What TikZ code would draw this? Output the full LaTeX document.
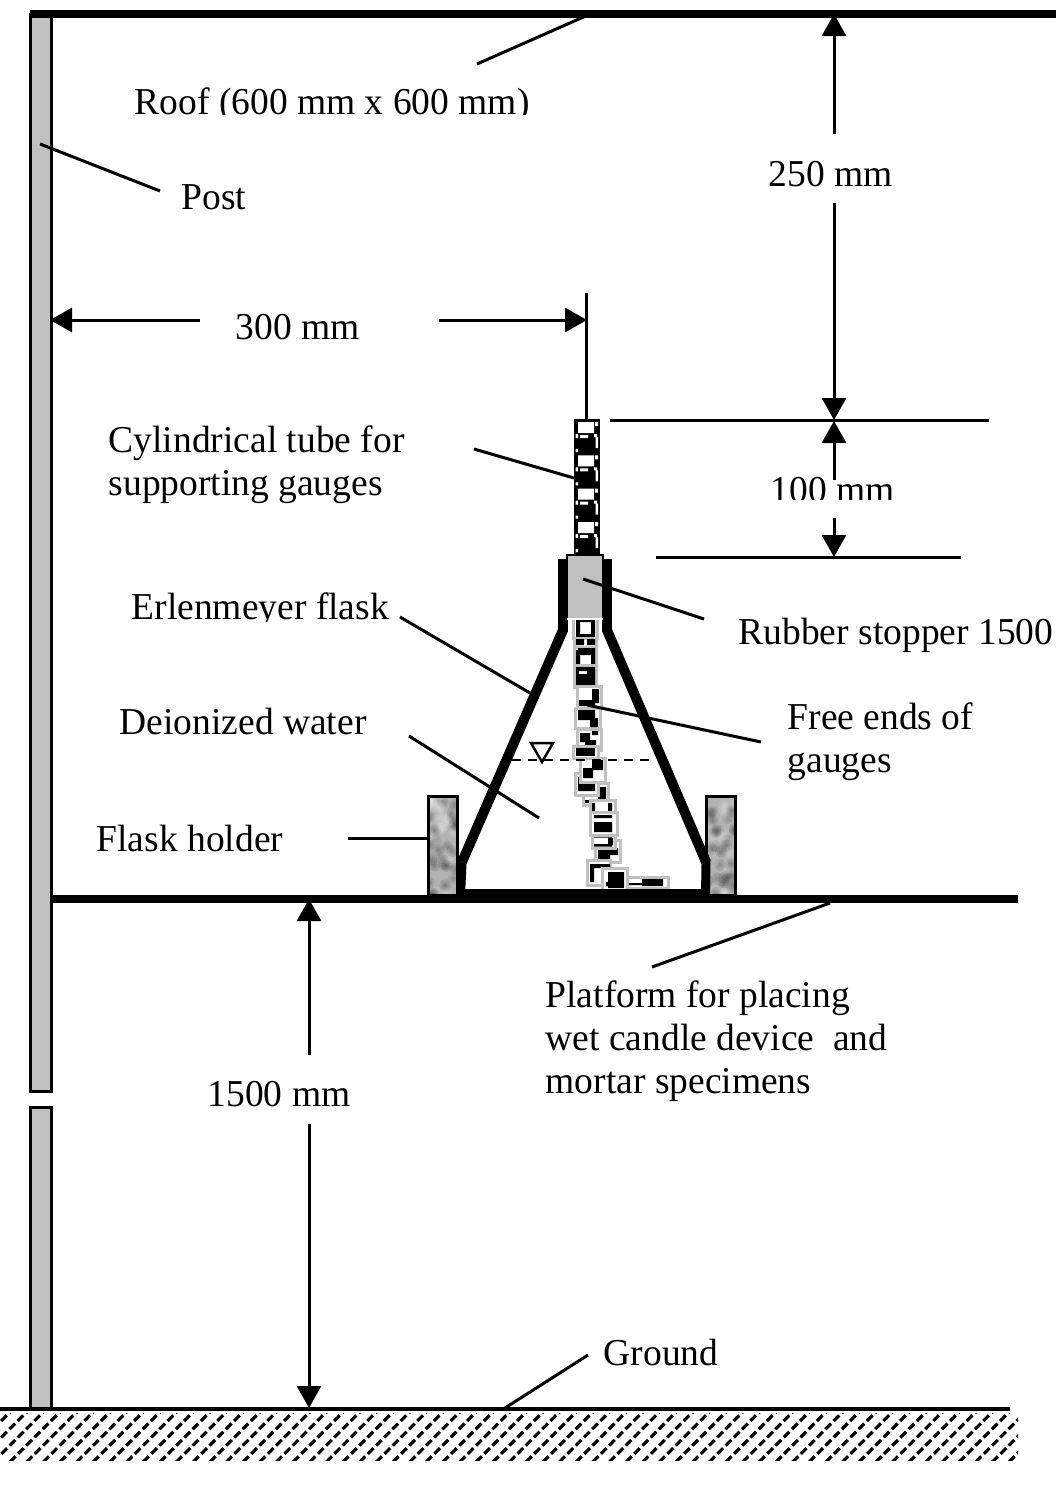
\documentclass[tikz,border=0pt]{standalone}
\usepackage{fontspec}
\setmainfont[FakeStretch=0.987]{Liberation Serif}
\usetikzlibrary{arrows.meta}

\definecolor{postgray}{RGB}{192,192,192}
\tikzset{
  txt/.style={anchor=base west, inner sep=0, align=left, xshift=0.5pt, yshift=1pt,
    font=\fontsize{38}{43}\selectfont},
  leader/.style={line width=3},
  dim/.style={line width=3, -{Triangle[length=22,width=24]}},
  gaugebox/.style={draw=postgray, line width=3, fill=white},
}
% one free gauge piece: box corners, then its black parts
\newcommand{\gaugepiece}[5]{
  \draw[gaugebox] (#1, #2) rectangle (#3, #4);
  \fill[black] #5;
}

\begin{document}
\begin{tikzpicture}[x=1pt, y=-1pt]
  \useasboundingbox (0, 0) rectangle (1061, 1497);

  % post and roof
  \draw[line width=3, fill=postgray] (30, 14) rectangle (51, 1091);
  \draw[line width=3, fill=postgray] (30, 1107) rectangle (51, 1408);
  \draw[line width=8] (30, 14) -- (1056, 14);

  % ground
  \begin{scope}
    \clip (0, 1413) rectangle (1018, 1460);
    \foreach \i in {0,...,65}
      \draw[line width=3.2, dash pattern=on 8 off 3.6] (\i*16.65 - 40, 1462) -- (\i*16.65 + 12, 1410);
  \end{scope}
  \draw[line width=4] (0, 1409) -- (1010, 1409);

  % flask holders
  \foreach \holdx in {427, 705} {
    \begin{scope}
      \clip (\holdx, 795) rectangle (\holdx + 31, 895);
      \fill[black!30] (\holdx, 795) rectangle (\holdx + 31, 895);
      \pgfmathsetseed{\holdx}
      \foreach \i in {1,...,60} {
        \pgfmathsetmacro{\spotx}{\holdx + 31*rnd}
        \pgfmathsetmacro{\spoty}{795 + 100*rnd}
        \pgfmathsetmacro{\spotc}{rnd > 0.5 ? 0 : 100}
        \foreach \spotr in {2, 4, 6}
          \fill[white!\spotc!black, opacity=0.09] (\spotx, \spoty) circle (\spotr);
      }
    \end{scope}
    \draw[line width=3] (\holdx + 1, 895) rectangle (\holdx + 30, 796);
  }

  % cylindrical tube
  \fill[black] (574, 419) rectangle (600, 555);
  \foreach \tuby in {420, 453.3, 486.7, 520} {
    \fill[white] (578, \tuby + 2) rectangle (594, \tuby + 13)
                 (580, \tuby + 15) rectangle (588, \tuby + 18)
                 (575.5, \tuby + 14) rectangle (578, \tuby + 18)
                 (575.5, \tuby + 29) rectangle (578, \tuby + 32)
                 (595, \tuby + 2) rectangle (598, \tuby + 6)
                 (594, \tuby + 14) rectangle (597, \tuby + 17)
                 (595.5, \tuby + 17) rectangle (598, \tuby + 28);
  }

  % free ends of gauges
  \gaugepiece{573}{618}{597}{638}{(576, 620) rectangle (595, 622) (576, 634) rectangle (595, 637) (576, 620) rectangle (580, 637) (591, 620) rectangle (595, 637)}
  \gaugepiece{574}{638}{596}{647}{(576, 639) rectangle (584, 645) (587, 639) rectangle (595, 645)}
  \gaugepiece{574}{647}{596}{665}{(578, 648) rectangle (595, 655) (576, 650) rectangle (580, 664) (591, 650) rectangle (595, 664)}
  \gaugepiece{574}{665}{596}{687}{(576, 667) rectangle (579, 685) (587, 667) rectangle (595, 685) (576, 667) rectangle (595, 671) (576, 674) rectangle (595, 685)}
  \gaugepiece{577}{686}{601}{708}{(592, 689) rectangle (599, 703) (579, 700) rectangle (595, 706)}
  \gaugepiece{575}{708}{600}{728}{(578, 710) rectangle (595, 720) (590, 718) rectangle (598, 727)}
  \gaugepiece{577}{729}{601}{750}{(580, 733) rectangle (590, 742) (592, 731) rectangle (598, 735) (585, 740) rectangle (596, 746)}
  \gaugepiece{573}{746}{598}{758}{(576, 748) rectangle (595, 756)}
  \gaugepiece{583}{783}{608}{805}{(598, 787) rectangle (606, 800) (585, 800) rectangle (589, 803)}
  \gaugepiece{575}{773}{598}{795}{(578, 777) rectangle (582, 791) (582, 781) rectangle (595, 791)}
  \gaugepiece{580}{758}{605}{782}{(592, 760) rectangle (603, 770) (583, 768) rectangle (593, 778)}
  \gaugepiece{590}{800}{615}{813}{(592, 803) rectangle (595, 812) (608, 803) rectangle (612, 812)}
  \gaugepiece{595}{840}{620}{862}{(598, 850) rectangle (610, 860) (607, 848) rectangle (618, 855)}
  \gaugepiece{592}{833}{615}{848}{(594, 835) rectangle (612, 837.5) (608, 838) rectangle (613, 845) (594, 844) rectangle (612, 846.5)}
  \gaugepiece{590}{812}{617}{835}{(594, 815) rectangle (612, 818) (594, 822) rectangle (612, 832)}
  \gaugepiece{587}{860}{610}{885}{(590, 864) rectangle (610, 868) (590, 866) rectangle (594, 882)}
  \gaugepiece{627}{877}{668}{888}{(642, 879) rectangle (663, 886) (628, 883) rectangle (642, 885)}
  \gaugepiece{602}{868}{627}{892}{(608, 872) rectangle (624, 888) (606, 882) rectangle (608, 886)}

  % flask
  \coordinate (neckL) at (563, 630);
  \coordinate (neckR) at (607, 630);
  \coordinate (baseL) at (462, 862);
  \coordinate (baseR) at (706, 862);
  \fill[black] (558, 559) rectangle (568, 632);
  \fill[black] (602, 559) rectangle (612, 632);
  \draw[line width=10] (neckL) -- (baseL);
  \draw[line width=10] (neckR) -- (baseR);
  \fill[black] (457.5, 860) -- (466.5, 864) -- (465, 896) -- (459, 896) -- cycle;
  \fill[black] (710.5, 860) -- (701.5, 864) -- (701, 896) -- (710, 896) -- cycle;
  \fill[black] (460, 889) rectangle (706, 896);
  \draw[line width=2.5, fill=postgray] (567, 555) rectangle (603, 619);
  \draw[white, line width=2.5] (567, 619) -- (603, 619);

  % platform
  \draw[line width=8] (52, 899) -- (1018, 899);

  % water level
  \draw[line width=2.5, dash pattern=on 9 off 7] (512, 760) -- (650, 760);
  \draw[line width=2.5] (531, 743) -- (553, 743) -- (542, 762) -- cycle;

  % dimensions
  \draw[line width=3] (586, 293) -- (586, 420);
  \draw[line width=3] (610, 420) -- (989, 420);
  \draw[line width=3] (656, 557) -- (961, 557);
  \draw[dim] (834, 134) -- (834, 14);
  \draw[dim] (834, 203) -- (834, 420);
  \draw[dim] (200, 320) -- (50, 320);
  \draw[dim] (439, 320) -- (587, 320);
  \draw[dim] (834, 480) -- (834, 421);
  \draw[dim] (834, 518) -- (834, 557);
  \draw[dim] (309, 1055) -- (309, 899);
  \draw[dim] (309, 1124) -- (309, 1408);

  % labels
  \node[txt] (roof) at (134, 115) {Roof (600 mm x 600 mm)};
  \node[txt] (post) at (181, 210) {Post};
  \node[txt] (top) at (768, 187) {250 mm};
  \node[txt] (side) at (235, 340) {300 mm};
  \node[txt] (tube) at (108, 496) {Cylindrical tube for\\supporting gauges};
  \node[txt] (tubeh) at (770, 503) {100 mm};
  \node[txt] (flask) at (131, 620) {Erlenmeyer flask};
  \node[txt] (stopper) at (738, 645) {Rubber stopper 1500};
  \node[txt] (water) at (119, 735) {Deionized water};
  \node[txt] (ends) at (787, 773) {Free ends of\\gauges};
  \node[txt] (holder) at (96, 852) {Flask holder};
  \node[txt] (platform) at (545, 1094) {Platform for placing\\wet candle device~ and\\mortar specimens};
  \node[txt] (height) at (207, 1107) {1500 mm};
  \node[txt] (ground) at (603, 1366) {Ground};

  % text cut off at the bottom
  \fill[white] (125, 115) rectangle (540, 128);
  \fill[white] (125, 622) rectangle (395, 632);
  \fill[white] (765, 500) rectangle (910, 512);

  % leaders
  \draw[leader] (477, 64) -- (588, 15);
  \draw[leader] (40, 144) -- (160, 191);
  \draw[leader] (474, 449) -- (574, 478);
  \draw[leader] (400, 617) -- (530, 693);
  \draw[leader] (409, 736) -- (539, 818);
  \draw[leader] (348, 838) -- (427, 838);
  \draw[leader] (652, 967) -- (830, 903);
  \draw[leader] (505, 1408) -- (588, 1355);
  \draw[leader] (583, 579) -- (704, 619);
  \draw[leader] (587, 705) -- (761, 742);
\end{tikzpicture}
\end{document}
